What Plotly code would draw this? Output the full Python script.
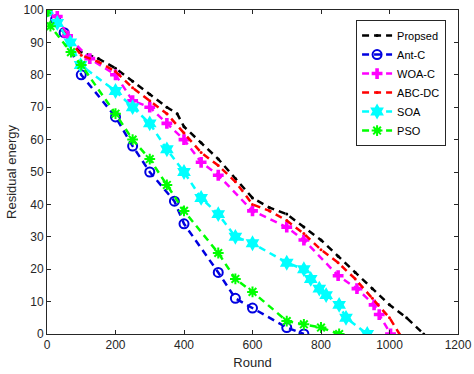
import plotly.graph_objects as go

prop_x = [0, 50, 100, 150, 200, 250, 300, 350, 380, 400, 450, 500, 550, 600, 650, 700, 750, 800, 850, 900, 950, 1000, 1050, 1100]
prop_y = [100, 93, 87, 85, 82, 78, 74, 70, 68, 64, 59, 54, 48, 42, 39, 37, 33, 29, 24, 19, 14, 9, 5, 0]

ant_x = [0, 25, 50, 100, 200, 250, 300, 372, 400, 500, 550, 600, 700, 750]
ant_y = [100, 97, 93, 80, 67, 58, 50, 41, 34, 19, 11, 8, 2, 0]

woa_x = [0, 30, 60, 125, 200, 250, 300, 350, 400, 450, 500, 600, 700, 750, 850, 905, 955, 970, 1003]
woa_y = [100, 98, 92, 85, 80, 72, 70, 65, 60, 53, 49, 38, 33, 29, 18, 14, 9, 6, 0]

abc_x = [0, 25, 50, 100, 150, 200, 250, 300, 350, 400, 450, 500, 550, 600, 650, 700, 750, 800, 850, 900, 950, 1000, 1029]
abc_y = [100, 97, 93, 86, 84, 81, 76, 72, 68, 62, 56, 52, 47, 40, 38, 35, 31, 26, 22, 17, 11, 5, 0]

soa_x = [0, 30, 68, 98, 200, 250, 300, 350, 400, 450, 500, 550, 600, 700, 750, 770, 795, 815, 853, 873, 935]
soa_y = [100, 96, 90, 83, 75, 70, 65, 57, 50, 42, 37, 30, 28, 22, 20, 17, 14, 12, 9, 5, 0]

pso_x = [0, 10, 70, 100, 200, 250, 300, 350, 400, 500, 550, 600, 700, 750, 800, 853]
pso_y = [100, 95, 87, 83, 68, 60, 54, 46, 38, 25, 17, 13, 4, 3, 2, 0]

fig = go.Figure()

def add(name, x, y, color, symbol, msize, mline=2):
    fig.add_trace(go.Scatter(
        x=x, y=y, name=name, mode="lines+markers",
        line=dict(color=color, width=2.5, dash="7px,5px"),
        marker=dict(symbol=symbol, size=msize, color=color,
                    line=dict(color=color, width=mline)),
    ))

add("Propsed", prop_x, prop_y, "black", "circle", 3, 0)
add("Ant-C", ant_x, ant_y, "#0000E0", "circle-open", 9)
add("WOA-C", woa_x, woa_y, "#FF00FF", "cross", 9, 0)
add("ABC-DC", abc_x, abc_y, "#FF0000", "circle", 3, 0)
add("SOA", soa_x, soa_y, "#00FFFF", "hexagram", 12, 0)
add("PSO", pso_x, pso_y, "#00FF00", "asterisk-open", 9, 2)

font_family = "Arial, Liberation Sans, sans-serif"
axis_common = dict(
    showline=True, linecolor="#262626", linewidth=1, mirror="ticks",
    ticks="inside", ticklen=4, tickcolor="#262626",
    showgrid=False, zeroline=False, automargin=False,
    ticklabeloverflow="allow",
    tickfont=dict(family=font_family, size=12, color="#262626"),
)

fig.update_layout(
    width=474, height=374, autosize=False,
    margin=dict(l=47, r=16, t=10, b=40, autoexpand=False),
    plot_bgcolor="white", paper_bgcolor="white",
    xaxis=dict(range=[0, 1200], dtick=200,
               title=dict(text="Round", standoff=6,
                          font=dict(family=font_family, size=13, color="#262626")),
               **axis_common),
    yaxis=dict(range=[0, 100], dtick=10,
               title=dict(text="Residual energy", standoff=4,
                          font=dict(family=font_family, size=13, color="#262626")),
               **axis_common),
    legend=dict(x=0.752, y=0.969, xanchor="left", yanchor="top",
                bgcolor="white", bordercolor="#262626", borderwidth=1,
                font=dict(family=font_family, size=11, color="black"),
                tracegroupgap=0, itemwidth=30),
    showlegend=True,
)

fig.write_html("out.html",
               config={"displayModeBar": False, "responsive": False},
               post_script="document.body.style.margin='0px';document.body.style.overflow='hidden';")
